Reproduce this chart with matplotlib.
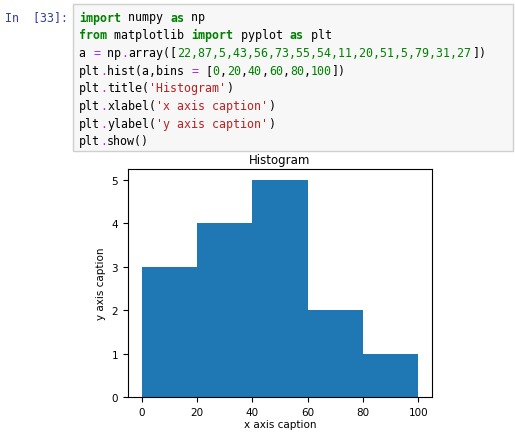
import numpy as np
import matplotlib
matplotlib.use("Agg")
import matplotlib.pyplot as plt
from matplotlib.patches import Rectangle

values = [22, 87, 5, 43, 56, 73, 55, 54, 11, 20, 51, 5, 79, 31, 27]
bins = [0, 20, 40, 60, 80, 100]
title = "Histogram"
xlabel = "x axis caption"
ylabel = "y axis caption"

W, H = 515, 439
fig = plt.figure(figsize=(W/100, H/100), dpi=100)

# code cell
fig.patches.append(Rectangle((73/W, 1-152/H), 440/W, 147/H, transform=fig.transFigure,
                             facecolor="#f7f7f7", edgecolor="#cfcfcf", lw=1))
fig.text(5/W, 1-18/H, "In  [33]:", family="DejaVu Sans Mono", fontsize=8.4,
         color="#303F9F", va="center")

G, K, R, P, D = "#008000", "#000000", "#BA2121", "#AA22FF", "#000000"
lines = [
    [("import", G, True), (" numpy ", K, False), ("as", G, True), (" np", K, False)],
    [("from", G, True), (" matplotlib ", K, False), ("import", G, True), (" pyplot ", K, False), ("as", G, True), (" plt", K, False)],
    [("a ", K, False), ("=", P, False), (" np", K, False), (".", P, False), ("array([", K, False),
     ("22,87,5,43,56,73,55,54,11,20,51,5,79,31,27", G, False), ("])", K, False)],
    [("plt", K, False), (".", P, False), ("hist(a,bins ", K, False), ("=", P, False), (" [", K, False),
     ("0", G, False), (",", K, False), ("20", G, False), (",", K, False), ("40", G, False), (",", K, False),
     ("60", G, False), (",", K, False), ("80", G, False), (",", K, False), ("100", G, False), ("])", K, False)],
    [("plt", K, False), (".", P, False), ("title(", K, False), ("'Histogram'", R, False), (")", K, False)],
    [("plt", K, False), (".", P, False), ("xlabel(", K, False), ("'x axis caption'", R, False), (")", K, False)],
    [("plt", K, False), (".", P, False), ("ylabel(", K, False), ("'y axis caption'", R, False), (")", K, False)],
    [("plt", K, False), (".", P, False), ("show()", K, False)],
]
cw = 7.03
for i, segs in enumerate(lines):
    y = 18 + i*17.7
    col = 0
    for txt, c, b in segs:
        fig.text((79 + col*cw)/W, 1-y/H, txt, family="DejaVu Sans Mono", fontsize=8.4,
                 color=c, weight="bold" if b else "normal", va="center")
        col += len(txt)

ax = fig.add_axes([128/W, 1-398/H, 304/W, 228/H])
ax.hist(np.array(values), bins=bins, color="#1f77b4")
ax.set_title(title, fontsize=8.5, pad=4)
ax.set_xlabel(xlabel, fontsize=7.5, labelpad=2)
ax.set_ylabel(ylabel, fontsize=7.5, labelpad=4)
ax.tick_params(labelsize=7.5)
fig.savefig("out.png", dpi=100)
